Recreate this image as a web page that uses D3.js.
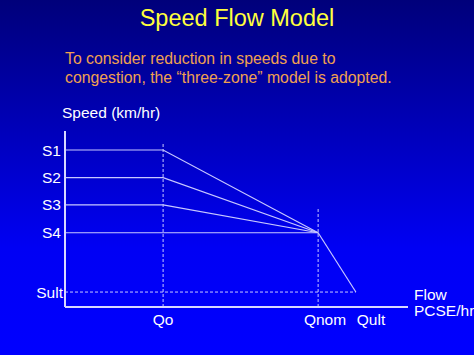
<!DOCTYPE html>
<html>
<head>
<meta charset="utf-8">
<script src="https://cdn.jsdelivr.net/npm/d3@7"></script>
<style>
  html, body { margin: 0; padding: 0; overflow: hidden; }
  svg { display: block; font-family: "Liberation Sans", Arial, sans-serif; }
</style>
</head>
<body>
<svg id="chart" width="474" height="355"></svg>
<script>
// speed levels (arbitrary units, 0-100)
var speedLabels = ["S1", "S2", "S3", "S4"];
var speedValues = [89.2, 73.5, 58, 42.2];
var sultLabel = "Sult";
var sultValue = 8.5;

// flow breakpoints (arbitrary units, 0-100)
var flowLabels = ["Qo", "Qnom", "Qult"];
var flowValues = [28.6, 73.8, 84.8];

var lineColor = "#c8c8ff";

var svg = d3.select("#chart");

// slide background gradient
var defs = svg.append("defs");
var grad = defs.append("linearGradient")
    .attr("id", "bg")
    .attr("x1", 0).attr("y1", 0)
    .attr("x2", 0).attr("y2", 1);
grad.append("stop").attr("offset", "0%").attr("stop-color", "#00007a");
grad.append("stop").attr("offset", "70%").attr("stop-color", "#0000f4");
grad.append("stop").attr("offset", "100%").attr("stop-color", "#0000ff");

svg.append("rect")
    .attr("width", 474).attr("height", 355)
    .attr("fill", "url(#bg)");

// title + note
svg.append("text")
    .attr("x", 237).attr("y", 26)
    .attr("text-anchor", "middle")
    .attr("font-size", "23.5px")
    .attr("fill", "#ffff3c")
    .text("Speed Flow Model");

var note = ["To consider reduction in speeds due to",
            "congestion, the \u201cthree-zone\u201d model is adopted."];
svg.selectAll(".note")
    .data(note)
  .enter().append("text")
    .attr("class", "note")
    .attr("x", 65)
    .attr("y", function(d, i) { return 64 + i * 18.5; })
    .attr("font-size", "15.8px")
    .attr("fill", "#f0a050")
    .text(function(d) { return d; });

// plot area
var x = d3.scaleLinear().domain([0, 100]).range([65, 408]);
var y = d3.scaleLinear().domain([0, 100]).range([307, 131]);

var qo = flowValues[0], qnom = flowValues[1], qult = flowValues[2];
var s4 = speedValues[3];

// dashed guides
var dash = svg.append("g")
    .attr("stroke", lineColor)
    .attr("stroke-width", 1)
    .attr("stroke-dasharray", "3,2");

dash.append("line")
    .attr("x1", x(qo)).attr("x2", x(qo))
    .attr("y1", y(0)).attr("y2", y(speedValues[0]) - 8);
dash.append("line")
    .attr("x1", x(qnom)).attr("x2", x(qnom))
    .attr("y1", y(0)).attr("y2", y(s4) - 24);
dash.append("line")
    .attr("x1", x(0)).attr("x2", x(qult))
    .attr("y1", y(sultValue)).attr("y2", y(sultValue));

// speed-flow curves
var line = d3.line()
    .x(function(d) { return x(d[0]); })
    .y(function(d) { return y(d[1]); });

var curves = speedValues.map(function(s, i) {
  if (i === speedValues.length - 1) return [[0, s], [qnom, s]];
  return [[0, s], [qo, s], [qnom, s4]];
});
curves.push([[qnom, s4], [qult, sultValue]]);

svg.append("g").selectAll("path")
    .data(curves)
  .enter().append("path")
    .attr("d", line)
    .attr("fill", "none")
    .attr("stroke", lineColor)
    .attr("stroke-width", 1.2);

// axes
var axis = svg.append("g")
    .attr("stroke", "#d8d8ff")
    .attr("stroke-width", 2);
axis.append("line")
    .attr("x1", x(0)).attr("x2", x(0))
    .attr("y1", y(0)).attr("y2", y(100));
axis.append("line")
    .attr("x1", x(0)).attr("x2", x(100))
    .attr("y1", y(0)).attr("y2", y(0));

// labels
var lab = svg.append("g")
    .attr("fill", "#ffffff")
    .attr("font-size", "15.5px");

lab.selectAll(".slab")
    .data(speedLabels)
  .enter().append("text")
    .attr("x", 61)
    .attr("y", function(d, i) { return y(speedValues[i]) + 5.5; })
    .attr("text-anchor", "end")
    .text(function(d) { return d; });

lab.append("text")
    .attr("x", 63).attr("y", y(sultValue) + 5.5)
    .attr("text-anchor", "end")
    .text(sultLabel);

var flowLabelX = [163, 325, 371];
lab.selectAll(".qlab")
    .data(flowLabels)
  .enter().append("text")
    .attr("x", function(d, i) { return flowLabelX[i]; })
    .attr("y", 325)
    .attr("text-anchor", "middle")
    .text(function(d) { return d; });

lab.append("text")
    .attr("x", 62).attr("y", 118)
    .text("Speed (km/hr)");

lab.append("text")
    .attr("x", 414).attr("y", 300)
    .text("Flow");
lab.append("text")
    .attr("x", 414).attr("y", 316)
    .text("PCSE/hr");
</script>
</body>
</html>
